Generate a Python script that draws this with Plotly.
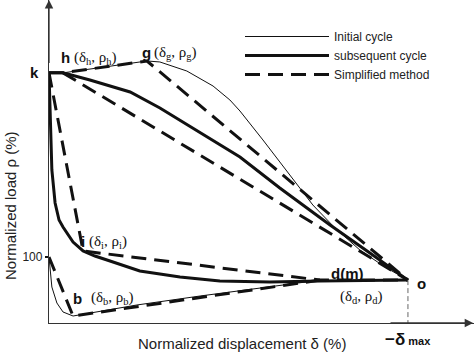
import plotly.graph_objects as go

# ---- Key points (normalized displacement δ %, normalized load ρ %) ----
pt_k = (0.0, 379.0)
pt_h = (3.9, 379.0)
pt_g = (27.3, 397.0)
pt_i = (9.5, 109.1)
pt_b = (6.7, 10.6)
pt_d = (75.5, 65.0)
pt_o = (100.0, 65.0)
pt_100 = (0.0, 100.0)

# ---- Initial cycle (thin) ----
init_x_top = [0.0, 3.9, 27.3, 30.9, 38.4, 45.7, 50.4, 53.2, 59.6, 68.0, 73.5, 79.7, 86.6, 93.6, 100.0]
init_y_top = [379.0, 379.0, 397.0, 395.5, 381.8, 359.1, 337.9, 321.2, 277.3, 216.7, 178.8, 143.9, 110.6, 84.8, 65.0]
init_x_low = [0.0, 0.3, 0.8, 2.2, 3.9, 6.7, 24.5, 42.1, 58.8, 75.5]
init_y_low = [100.0, 77.3, 54.5, 30.3, 16.7, 10.6, 27.3, 40.9, 53.0, 65.0]

# ---- Subsequent cycle (thick solid) ----
sub_x_up = [0.0, 3.9, 11.4, 22.6, 30.9, 42.1, 53.2, 64.3, 78.3, 89.4, 100.0]
sub_y_up = [379.0, 379.0, 368.2, 350.0, 325.8, 287.9, 251.5, 204.5, 148.5, 106.1, 65.0]
sub_x_low = [0.0, 0.3, 0.6, 0.8, 1.7, 2.8, 3.9, 5.3, 6.7, 9.5, 12.8, 17.0, 25.3, 36.5, 47.6, 61.5, 75.5, 100.0]
sub_y_low = [379.0, 322.7, 277.3, 231.8, 181.8, 156.1, 145.5, 133.3, 122.7, 109.1, 101.5, 93.9, 78.8, 69.7, 63.6, 62.1, 63.6, 65.0]

# ---- Simplified method (dashed) ----
simp_paths = [
    [pt_k, pt_h, pt_g, pt_o],
    [pt_h, pt_o],
    [pt_k, pt_i, pt_d, pt_o],
    [pt_100, pt_b, pt_d],
]

X_MAX = 118.4
Y_MAX = 489.4


def join(paths):
    xs, ys = [], []
    for p in paths:
        xs += [q[0] for q in p] + [None]
        ys += [q[1] for q in p] + [None]
    return xs, ys


fig = go.Figure()

ix = init_x_top + [None] + init_x_low
iy = init_y_top + [None] + init_y_low
fig.add_trace(go.Scatter(x=ix, y=iy, mode="lines", name="Initial cycle",
                         line=dict(color="#111", width=1)))

sx = sub_x_up + [None] + sub_x_low
sy = sub_y_up + [None] + sub_y_low
fig.add_trace(go.Scatter(x=sx, y=sy, mode="lines", name="subsequent cycle",
                         line=dict(color="#111", width=3)))

dx, dy = join(simp_paths)
fig.add_trace(go.Scatter(x=dx, y=dy, mode="lines", name="Simplified method",
                         line=dict(color="#111", width=3, dash="15px,8px")))

# guide from o down to axis
fig.add_trace(go.Scatter(x=[pt_o[0], pt_o[0]], y=[pt_o[1], 0], mode="lines",
                         showlegend=False, line=dict(color="#666", width=1, dash="5px,3px")))

sans = "Liberation Sans, Arial, sans-serif"
serif = "Liberation Serif, Times New Roman, serif"

ann = []


def lab(pt, text, xs, ys, font, size, bold=False, xanchor="center"):
    ann.append(dict(x=pt[0], y=pt[1], xref="x", yref="y", text=("<b>%s</b>" % text) if bold else text,
                    showarrow=False, xshift=xs, yshift=ys, xanchor=xanchor, yanchor="middle",
                    font=dict(family=font, size=size, color="#111")))


lab(pt_k, "k", -8, 0, sans, 15, True, "right")
lab(pt_h, "h", 2, 15, sans, 15, True)
lab(pt_h, "(δ<sub>h</sub>, ρ<sub>h</sub>)", 9, 15, serif, 15, False, "left")
lab(pt_g, "g", 0, 8, sans, 15, True)
lab(pt_g, "(δ<sub>g</sub>, ρ<sub>g</sub>)", 5, 8, serif, 15, False, "left")
lab(pt_i, "i", 0, 9, sans, 15, True)
lab(pt_i, "(δ<sub>i</sub>, ρ<sub>i</sub>)", 4, 9, serif, 15, False, "left")
lab(pt_b, "b", 4, 18, sans, 15, True)
lab(pt_b, "(δ<sub>b</sub>, ρ<sub>b</sub>)", 16, 18, serif, 15, False, "left")
lab(pt_d, "d(m)", 27, 7, sans, 15, True)
lab(pt_d, "(δ<sub>d</sub>, ρ<sub>d</sub>)", 41, -17, serif, 15, False)
lab(pt_o, "o", 14, -3, sans, 15, True)

# -δ max tick label
ann.append(dict(x=pt_o[0], y=0, xref="x", yref="y", yshift=-16, showarrow=False,
                text="<b>−δ</b><b><span style='font-size:11px'> max</span></b>",
                font=dict(family=sans, size=17, color="#111")))

# axis titles
ann.append(dict(x=(242 - 49) / 425, y=-20 / 323, xref="paper", yref="paper", showarrow=False,
                text="Normalized displacement δ (%)", yanchor="middle",
                font=dict(family=sans, size=15, color="#222")))
ann.append(dict(x=-39 / 425, y=1 - 206 / 323, xref="paper", yref="paper", showarrow=False,
                text="Normalized load ρ (%)", textangle=-90, xanchor="center",
                font=dict(family=sans, size=15, color="#222")))

# axis arrows
ann.append(dict(x=0, y=Y_MAX, xref="x", yref="y", ax=0, ay=Y_MAX * 0.8, axref="x", ayref="y",
                showarrow=True, arrowhead=2, arrowsize=1.3, arrowwidth=1.3, arrowcolor="#333", text=""))
ann.append(dict(x=X_MAX * 0.998, y=0, xref="x", yref="y", ax=X_MAX * 0.8, ay=0, axref="x", ayref="y",
                showarrow=True, arrowhead=2, arrowsize=1.3, arrowwidth=1.3, arrowcolor="#333", text=""))

fig.update_layout(
    width=474, height=354,
    margin=dict(l=49, r=0, t=0, b=31),
    paper_bgcolor="white", plot_bgcolor="white",
    annotations=ann,
    showlegend=True,
    legend=dict(x=(240 - 49) / 425, y=1 - 22 / 323, xanchor="left", yanchor="top",
                itemwidth=84, bgcolor="rgba(0,0,0,0)", borderwidth=0,
                font=dict(family=sans, size=12, color="#222"), tracegroupgap=0),
)
fig.update_xaxes(range=[0, X_MAX], showgrid=False, zeroline=False, showline=True,
                 linecolor="#333", linewidth=1.3, tickvals=[], showticklabels=False)
fig.update_yaxes(range=[0, Y_MAX], showgrid=False, zeroline=False, showline=True,
                 linecolor="#333", linewidth=1.3, tickvals=[100], ticktext=["100"],
                 ticks="outside", ticklen=3, tickwidth=2, tickcolor="#111",
                 tickfont=dict(family=sans, size=12, color="#222"))

fig.write_html("out.html")
